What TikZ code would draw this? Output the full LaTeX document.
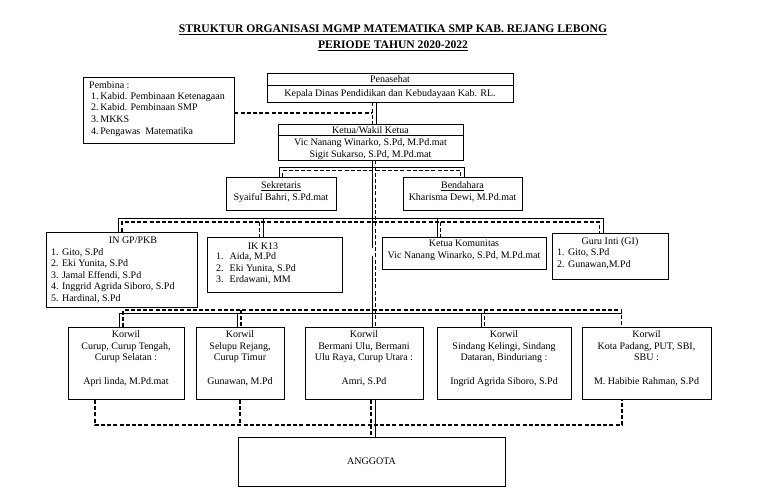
\documentclass[tikz,border=0pt]{standalone}
\usepackage{fontspec}
\setmainfont{Liberation Serif}
\begin{document}
\begin{tikzpicture}[x=1pt,y=-1pt,
  box/.style={draw,line width=0.8pt,fill=white,inner sep=0pt},
  sl/.style={line width=1pt},
  dl/.style={line width=1.1pt,dash pattern=on 4pt off 2.2pt},
  txt/.style={inner sep=0pt,font=\fontsize{10}{11.6}\selectfont},
  ltxt/.style={txt,align=left,anchor=north west},
  ctxt/.style={txt,align=center,anchor=north}]
\useasboundingbox[fill=white] (0,0) rectangle (768,503);
% title
\node[inner sep=0pt,font=\fontsize{11.6}{13}\selectfont\bfseries] (title1) at (393,30) {\underline{STRUKTUR ORGANISASI MGMP MATEMATIKA SMP KAB. REJANG LEBONG}};
\node[inner sep=0pt,font=\fontsize{11.6}{13}\selectfont\bfseries] (title2) at (393,45.5) {\underline{PERIODE TAHUN 2020-2022}};
% boxes
\node[box,minimum width=151pt,minimum height=66pt] (pemb) at (158.5,110) {};
\node[box,minimum width=246pt,minimum height=29pt] (pen) at (390,87.5) {};
\node[box,minimum width=185pt,minimum height=36pt] (ket) at (370.5,142) {};
\node[box,minimum width=110pt,minimum height=33pt] (sek) at (281,193.5) {};
\node[box,minimum width=119pt,minimum height=33pt] (ben) at (462.5,193.5) {};
\node[box,minimum width=151pt,minimum height=75pt] (ingp) at (121.5,269.5) {};
\node[box,minimum width=135pt,minimum height=55pt] (ik) at (274.5,264.5) {};
\node[box,minimum width=164pt,minimum height=32pt] (kk) at (464,253) {};
\node[box,minimum width=116pt,minimum height=46pt] (gi) at (610,256) {};
\node[box,minimum width=116pt,minimum height=72pt] (k1) at (126,363.5) {};
\node[box,minimum width=88pt,minimum height=72pt] (k2) at (240,363.5) {};
\node[box,minimum width=118pt,minimum height=72pt] (k3) at (364,363.5) {};
\node[box,minimum width=134pt,minimum height=72pt] (k4) at (504,363.5) {};
\node[box,minimum width=129pt,minimum height=72pt] (k5) at (646.5,363.5) {};
\node[box,minimum width=267pt,minimum height=49pt] (ang) at (371.5,461.5) {};
% dividers
\draw[line width=0.8pt] (pen.west |- 0,85) -- (pen.east |- 0,85);
\draw[line width=0.8pt] (ket.west |- 0,135) -- (ket.east |- 0,135);
% texts
\node[ltxt] (tpemb) at (89,81) {Pembina :\\[-0.5pt]
\hspace{2pt}1.\,Kabid. Pembinaan Ketenagaan\\
\hspace{2pt}2.\,Kabid. Pembinaan SMP\\
\hspace{2pt}3.\,MKKS\\
\hspace{2pt}4.\,Pengawas~ Matematika};
\node[ctxt] (tpen1) at (390,75.5) {Penasehat};
\node[ctxt] (tpen2) at (390,89) {Kepala Dinas Pendidikan dan Kebudayaan Kab. RL.};
\node[ctxt] (tket1) at (370.5,126.5) {Ketua/Wakil Ketua};
\node[ctxt] (tket2) at (370.5,138.5) {Vic Nanang Winarko, S.Pd, M.Pd.mat\\Sigit Sukarso, S.Pd, M.Pd.mat};
\node[ctxt] (tsek) at (281,181.5) {\underline{Sekretaris}\\Syaiful Bahri, S.Pd.mat};
\node[ctxt] (tben) at (462.5,181.5) {\underline{Bendahara}\\Kharisma Dewi, M.Pd.mat};
\node[ctxt] (tingp1) at (133,236.5) {IN GP/PKB};
\node[ltxt] (tingp2) at (51,248) {1. Gito, S.Pd\\2. Eki Yunita, S.Pd\\3. Jamal Effendi, S.Pd\\4. Inggrid Agrida Siboro, S.Pd\\5. Hardinal, S.Pd};
\node[ctxt] (tik1) at (263,242.5) {IK K13};
\node[ltxt] (tik2) at (216,252.5) {1.\hspace{6pt}Aida, M.Pd\\2.\hspace{6pt}Eki Yunita, S.Pd\\3.\hspace{6pt}Erdawani, MM};
\node[ctxt] (tkk) at (464,240) {Ketua Komunitas\\Vic Nanang Winarko, S.Pd, M.Pd.mat};
\node[ctxt] (tgi1) at (610,237) {Guru Inti (GI)};
\node[ltxt] (tgi2) at (557,248.5) {1. Gito, S.Pd\\2. Gunawan,M.Pd};
\node[ctxt] (tk1) at (126,330.5) {Korwil\\Curup, Curup Tengah,\\Curup Selatan :};
\node[ctxt] (tk1b) at (126,377) {Apri linda, M.Pd.mat};
\node[ctxt] (tk2) at (240,330.5) {Korwil\\Selupu Rejang,\\Curup Timur};
\node[ctxt] (tk2b) at (240,377) {Gunawan, M.Pd};
\node[ctxt] (tk3) at (364,330.5) {Korwil\\Bermani Ulu, Bermani\\Ulu Raya, Curup Utara :};
\node[ctxt] (tk3b) at (364,377) {Amri, S.Pd};
\node[ctxt] (tk4) at (504,330.5) {Korwil\\Sindang Kelingi, Sindang\\Dataran, Binduriang :};
\node[ctxt] (tk4b) at (504,377) {Ingrid Agrida Siboro, S.Pd};
\node[ctxt] (tk5) at (646.5,330.5) {Korwil\\Kota Padang, PUT, SBI,\\SBU :};
\node[ctxt] (tk5b) at (646.5,377) {M. Habibie Rahman, S.Pd};
\node[txt] (tang) at (371.5,461.5) {ANGGOTA};
% connectors: pembina / penasehat / ketua
\draw[dl] (pemb.east |- 0,113) -- (372,113);
\draw[sl] (376,0 |- pen.south) -- (376,0 |- ket.north);
\draw[dl] (372.5,0 |- pen.south) -- (372.5,0 |- ket.north);
% central spine
\draw[sl] (372,0 |- ket.south) -- (372,248);
\draw[sl] (372,256) -- (372,0 |- k3.north);
\draw[dl] (375.5,0 |- ket.south) -- (375.5,0 |- k3.north);
% ketua -> sekretaris / bendahara
\draw[sl] (279,0 |- sek.north) -- (279,167) -- (464,167) -- (464,0 |- ben.north);
\draw[dl] (282.5,0 |- sek.north) -- (282.5,170.5) -- (460.5,170.5) -- (460.5,0 |- ben.north);
% middle row
\draw[sl] (118,0 |- ingp.north) -- (118,218) -- (603,218) -- (603,0 |- gi.north);
\draw[dl] (122,0 |- ingp.north) -- (122,222) -- (599.5,222) -- (599.5,0 |- gi.north);
\draw[sl] (263,218) -- (263,0 |- ik.north);
\draw[dl] (259.5,222) -- (259.5,0 |- ik.north);
\draw[sl] (437,218) -- (437,0 |- kk.north);
\draw[dl] (440.5,222) -- (440.5,0 |- kk.north);
% korwil row
\draw[dl] (123,0 |- k1.north) -- (123,310) -- (621.5,310) -- (621.5,0 |- k5.north);
\draw[sl] (119.5,0 |- k1.north) -- (119.5,313.5) -- (621.5,313.5);
\draw[sl] (237.5,313.5) -- (237.5,0 |- k2.north);
\draw[dl] (241,310) -- (241,0 |- k2.north);
\draw[sl] (481,313.5) -- (481,0 |- k4.north);
\draw[dl] (484.5,310) -- (484.5,0 |- k4.north);
% bottom to anggota
\draw[dl] (95,0 |- k1.south) -- (95,425) -- (622,425) -- (622,0 |- k5.south);
\draw[dl] (240,0 |- k2.south) -- (240,425);
\draw[dl] (371,0 |- k3.south) -- (371,0 |- ang.north);
\draw[sl] (375,0 |- k3.south) -- (375,0 |- ang.north);
\end{tikzpicture}
\end{document}
